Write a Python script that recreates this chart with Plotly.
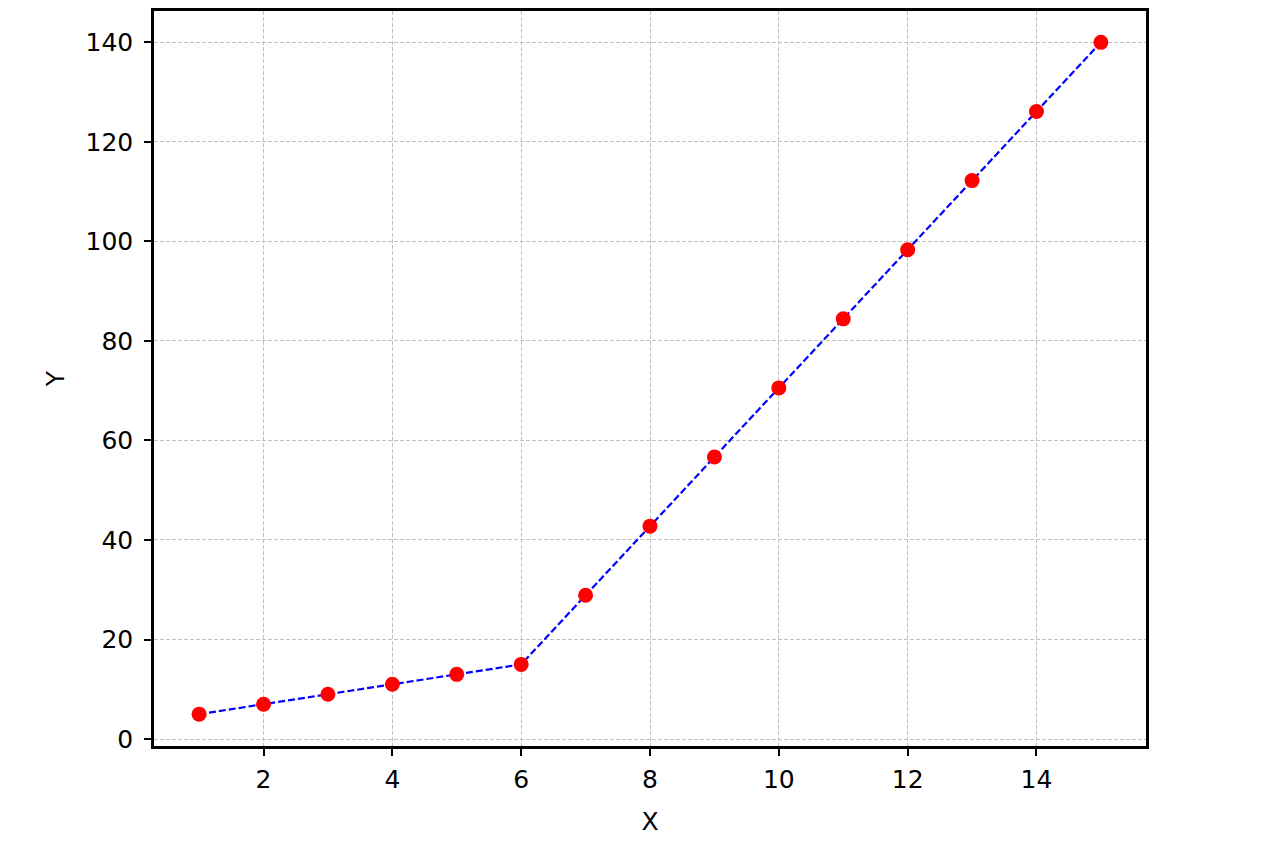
import plotly.graph_objects as go

x_vals = [1, 2, 3, 4, 5, 6, 7, 8, 9, 10, 11, 12, 13, 14, 15]
y_vals = [5, 7, 9, 11, 13, 15, 28.89, 42.78, 56.67, 70.56, 84.44, 98.33, 112.22, 126.11, 140]
x_ticks = [2, 4, 6, 8, 10, 12, 14]
y_ticks = [0, 20, 40, 60, 80, 100, 120, 140]

fig = go.Figure()
fig.add_trace(go.Scatter(
    x=x_vals, y=y_vals, mode="lines+markers",
    line=dict(color="blue", width=2.2, dash="7px,3px"),
    marker=dict(color="red", size=15, line=dict(width=0)),
    showlegend=False,
))

axis_common = dict(
    showline=True, linecolor="black", linewidth=2.5, mirror=True,
    ticks="outside", ticklen=7, tickwidth=2, tickcolor="black",
    showgrid=True, gridcolor="#c0c0c0", gridwidth=1, griddash="4px,2px",
    zeroline=False,
    tickfont=dict(family="DejaVu Sans", size=25, color="black"),
    title_font=dict(family="DejaVu Sans", size=25, color="black"),
)

fig.update_xaxes(range=[0.3, 15.7], tickvals=x_ticks, title_text="X",
                 title_standoff=20, ticklabelstandoff=2, **axis_common)
fig.update_yaxes(range=[-1.4, 146.3], tickvals=y_ticks, title_text="Y",
                 title_standoff=14, ticklabelstandoff=6, **axis_common)

# page body has an 8px margin, so the margins are offset by 8px
fig.update_layout(
    width=1269, height=845,
    margin=dict(l=146, r=131, t=0, b=107),
    plot_bgcolor="white", paper_bgcolor="white",
)

fig.write_html("out.html")
